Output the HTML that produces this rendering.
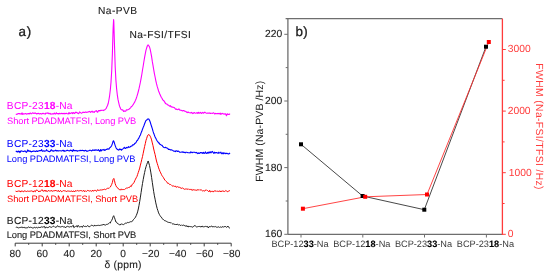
<!DOCTYPE html>
<html><head><meta charset="utf-8"><style>
html,body{margin:0;padding:0;background:#fff;}
svg{display:block;font-family:'Liberation Sans', Arial, Helvetica, sans-serif;text-rendering:geometricPrecision;}
</style></head><body>
<svg width="550" height="274" viewBox="0 0 550 274">
<rect width="550" height="274" fill="#fff"/>
<text x="18.44" y="35.80" font-size="13.4" letter-spacing="0.781" fill="#1c1c1c" stroke="#1c1c1c" stroke-width="0.3">a)</text>
<text x="98.06" y="14.10" font-size="10.2" letter-spacing="0.445" fill="#1c1c1c" stroke="#1c1c1c" stroke-width="0.12">Na-PVB</text>
<text x="129.46" y="38.10" font-size="10.2" letter-spacing="0.423" fill="#1c1c1c" stroke="#1c1c1c" stroke-width="0.12">Na-FSI/TFSI</text>
<polyline fill="none" stroke="#ff00ff" stroke-width="1.1" stroke-linejoin="round" points="15.8,113.8 16.5,114.4 17.2,114.3 17.9,113.6 18.6,113.6 19.3,113.5 20.0,114.0 20.7,113.7 21.4,114.1 22.1,112.9 22.8,114.4 23.5,113.7 24.2,114.0 24.9,113.7 25.6,113.6 26.3,113.9 27.0,114.1 27.7,113.6 28.4,113.6 29.1,114.0 29.8,113.3 30.5,113.0 31.2,113.9 31.9,113.4 32.6,112.8 33.3,113.3 34.0,113.4 34.7,113.1 35.4,113.0 36.1,113.6 36.8,114.0 37.5,113.5 38.2,113.3 38.9,113.8 39.6,113.9 40.3,113.5 41.0,113.8 41.7,114.1 42.4,113.5 43.1,113.2 43.8,113.8 44.5,113.7 45.2,114.1 45.9,113.0 46.6,113.3 47.3,113.2 48.0,112.8 48.7,113.7 49.4,113.8 50.1,113.3 50.8,114.2 51.5,114.0 52.2,113.9 52.9,113.8 53.6,114.0 54.3,113.0 55.0,113.9 55.7,113.9 56.4,112.8 57.1,113.8 57.8,113.5 58.5,114.0 59.2,113.4 59.9,113.6 60.6,113.7 61.3,113.2 62.0,113.8 62.7,113.4 63.4,113.7 64.1,113.2 64.8,113.9 65.5,113.6 66.2,113.3 66.9,113.6 67.6,113.8 68.3,114.0 69.0,112.5 69.7,113.6 70.4,113.4 71.1,113.1 71.8,112.6 72.5,113.6 73.2,112.5 73.9,113.2 74.6,113.5 75.3,112.2 76.0,112.8 76.7,112.3 77.4,112.9 78.1,113.5 78.8,113.6 79.5,111.9 80.2,112.4 80.9,112.9 81.6,113.3 82.3,112.7 83.0,112.1 83.7,112.5 84.4,112.4 85.1,112.2 85.8,111.9 86.5,112.4 87.2,112.3 87.9,112.0 88.6,111.9 89.3,111.4 90.0,111.7 90.7,112.4 91.4,111.7 92.1,111.1 92.8,112.2 93.5,111.8 94.2,112.4 94.9,111.4 95.6,111.1 96.3,110.6 97.0,111.7 97.7,112.2 98.4,110.6 99.1,110.6 99.8,111.0 100.5,110.3 101.2,110.4 101.9,110.2 102.6,110.3 103.3,110.6 104.0,110.0 104.7,110.0 105.4,109.1 106.1,108.6 106.8,106.9 107.5,105.5 108.2,103.5 108.9,100.0 109.6,95.8 110.3,90.0 111.0,82.3 111.7,71.0 112.4,53.3 113.1,28.8 113.6,19.6 113.8,21.5 114.5,45.6 115.2,67.1 115.9,80.1 116.6,88.6 117.3,94.8 118.0,99.4 118.7,102.7 119.4,105.6 120.1,107.6 120.8,109.1 121.5,109.8 122.2,109.9 122.9,110.1 123.6,111.4 124.3,110.9 125.0,111.2 125.7,111.2 126.4,109.8 127.1,110.0 127.8,109.7 128.5,109.4 129.2,109.0 129.9,108.4 130.6,107.8 131.3,106.6 132.0,106.2 132.7,105.2 133.4,104.3 134.1,103.0 134.8,101.9 135.5,100.3 136.2,98.5 136.9,96.4 137.6,94.1 138.3,91.5 139.0,88.7 139.7,85.5 140.4,82.2 141.1,78.4 141.8,74.5 142.5,70.0 143.2,66.0 143.9,61.5 144.6,57.3 145.3,53.6 146.0,50.2 146.7,47.8 147.4,45.8 148.1,44.8 148.3,45.1 148.8,45.8 149.5,46.9 150.2,49.3 150.9,52.9 151.6,56.7 152.3,61.4 153.0,65.3 153.7,69.7 154.4,73.6 155.1,77.0 155.8,80.6 156.5,83.7 157.2,86.4 157.9,88.7 158.6,91.0 159.3,92.8 160.0,94.6 160.7,96.0 161.4,97.5 162.1,98.4 162.8,99.9 163.5,100.5 164.2,101.2 164.9,102.4 165.6,103.6 166.3,104.0 167.0,104.1 167.7,105.0 168.4,105.1 169.1,105.7 169.8,106.2 170.5,105.7 171.2,106.9 171.9,106.8 172.6,107.2 173.3,107.2 174.0,107.5 174.7,108.0 175.4,108.9 176.1,109.5 176.8,109.1 177.5,109.7 178.2,109.4 178.9,108.9 179.6,110.0 180.3,110.3 181.0,110.1 181.7,110.6 182.4,110.9 183.1,110.6 183.8,110.5 184.5,111.2 185.2,111.3 185.9,111.5 186.6,112.2 187.3,112.6 188.0,111.9 188.7,112.5 189.4,112.8 190.1,112.8 190.8,113.0 191.5,112.4 192.2,113.0 192.9,113.6 193.6,113.0 194.3,112.5 195.0,113.0 195.7,113.3 196.4,113.0 197.1,112.6 197.8,113.5 198.5,112.3 199.2,113.1 199.9,112.9 200.6,112.4 201.3,113.5 202.0,113.1 202.7,112.4 203.4,113.2 204.1,112.8 204.8,112.1 205.5,112.7 206.2,113.1 206.9,113.3 207.6,113.1 208.3,113.0 209.0,113.2 209.7,112.9 210.4,113.5 211.1,113.2 211.8,113.3 212.5,113.4 213.2,112.8 213.9,113.0 214.6,114.0 215.3,113.6 216.0,113.4 216.7,113.7 217.4,113.4 218.1,113.8 218.8,113.4 219.5,113.9 220.2,113.1 220.9,114.4 221.6,113.7 222.3,113.3 223.0,113.9 223.7,113.9 224.4,114.2 225.1,113.6 225.8,114.4 226.5,115.8 227.2,113.7 227.9,114.5 228.6,114.2 229.3,114.5 230.0,113.7"/>
<polyline fill="none" stroke="#0000ff" stroke-width="1.1" stroke-linejoin="round" points="15.8,150.9 16.5,151.6 17.2,151.4 17.9,152.1 18.6,151.0 19.3,151.4 20.0,152.6 20.7,151.0 21.4,150.9 22.1,151.3 22.8,151.2 23.5,151.6 24.2,151.3 24.9,150.9 25.6,151.3 26.3,152.4 27.0,151.7 27.7,149.9 28.4,151.1 29.1,150.7 29.8,151.4 30.5,151.0 31.2,151.9 31.9,151.5 32.6,151.4 33.3,151.1 34.0,151.0 34.7,151.2 35.4,151.6 36.1,151.2 36.8,150.8 37.5,151.5 38.2,151.0 38.9,150.9 39.6,150.6 40.3,150.6 41.0,150.6 41.7,149.6 42.4,151.3 43.1,151.1 43.8,150.8 44.5,151.3 45.2,151.0 45.9,151.0 46.6,149.7 47.3,150.7 48.0,151.1 48.7,151.5 49.4,151.6 50.1,151.4 50.8,150.3 51.5,149.8 52.2,151.0 52.9,150.8 53.6,151.2 54.3,150.7 55.0,150.8 55.7,150.1 56.4,150.9 57.1,150.5 57.8,150.9 58.5,150.9 59.2,150.7 59.9,150.8 60.6,150.7 61.3,151.0 62.0,150.9 62.7,150.4 63.4,150.4 64.1,151.5 64.8,150.6 65.5,151.1 66.2,150.8 66.9,150.4 67.6,150.3 68.3,150.7 69.0,150.8 69.7,150.9 70.4,150.1 71.1,150.4 71.8,150.6 72.5,151.4 73.2,149.6 73.9,150.8 74.6,150.4 75.3,150.8 76.0,150.4 76.7,150.8 77.4,151.3 78.1,150.8 78.8,150.8 79.5,150.8 80.2,150.3 80.9,150.8 81.6,150.5 82.3,150.2 83.0,150.6 83.7,150.5 84.4,150.9 85.1,150.5 85.8,150.3 86.5,151.2 87.2,151.0 87.9,151.1 88.6,150.8 89.3,150.4 90.0,150.3 90.7,150.3 91.4,150.9 92.1,150.5 92.8,149.8 93.5,150.4 94.2,149.8 94.9,150.5 95.6,149.9 96.3,149.8 97.0,150.4 97.7,150.3 98.4,149.6 99.1,150.7 99.8,151.3 100.5,149.6 101.2,151.0 101.9,149.9 102.6,149.9 103.3,150.0 104.0,149.4 104.7,150.5 105.4,150.1 106.1,149.4 106.8,149.5 107.5,148.8 108.2,149.0 108.9,149.2 109.6,147.8 110.3,147.5 111.0,146.7 111.7,145.5 112.4,143.6 113.1,141.1 113.5,140.8 113.8,141.3 114.5,143.3 115.2,145.6 115.9,147.4 116.6,148.8 117.3,149.2 118.0,149.7 118.7,150.1 119.4,149.0 120.1,149.7 120.8,149.1 121.5,150.2 122.2,149.4 122.9,148.9 123.6,148.4 124.3,147.3 125.0,148.2 125.7,148.5 126.4,147.4 127.1,147.8 127.8,147.6 128.5,146.6 129.2,147.3 129.9,147.2 130.6,146.5 131.3,146.1 132.0,146.0 132.7,144.8 133.4,144.9 134.1,144.6 134.8,143.3 135.5,143.3 136.2,142.1 136.9,140.7 137.6,140.2 138.3,138.8 139.0,137.9 139.7,136.1 140.4,135.0 141.1,132.9 141.8,131.3 142.5,129.2 143.2,127.4 143.9,125.7 144.6,123.8 145.3,122.0 146.0,120.4 146.7,120.0 147.4,119.3 148.0,118.9 148.1,119.0 148.8,119.1 149.5,120.3 150.2,122.0 150.9,124.3 151.6,126.5 152.3,128.6 153.0,131.2 153.7,133.3 154.4,135.1 155.1,137.0 155.8,138.3 156.5,139.7 157.2,141.0 157.9,141.8 158.6,142.9 159.3,143.1 160.0,144.5 160.7,144.5 161.4,145.3 162.1,145.4 162.8,146.5 163.5,147.2 164.2,147.5 164.9,147.7 165.6,147.2 166.3,147.7 167.0,148.1 167.7,148.3 168.4,149.4 169.1,149.3 169.8,149.5 170.5,150.0 171.2,149.7 171.9,150.0 172.6,150.2 173.3,151.0 174.0,151.1 174.7,151.3 175.4,151.6 176.1,150.7 176.8,151.1 177.5,151.5 178.2,151.0 178.9,151.4 179.6,152.1 180.3,152.3 181.0,152.3 181.7,152.0 182.4,151.9 183.1,152.5 183.8,152.0 184.5,152.4 185.2,152.9 185.9,152.2 186.6,152.2 187.3,152.5 188.0,152.8 188.7,152.8 189.4,152.7 190.1,152.9 190.8,151.9 191.5,152.3 192.2,152.8 192.9,152.3 193.6,152.2 194.3,152.2 195.0,152.4 195.7,152.7 196.4,152.4 197.1,153.0 197.8,153.6 198.5,152.9 199.2,153.5 199.9,153.1 200.6,152.5 201.3,152.9 202.0,152.5 202.7,153.3 203.4,152.4 204.1,153.5 204.8,153.1 205.5,151.9 206.2,153.2 206.9,153.5 207.6,152.4 208.3,153.2 209.0,151.9 209.7,152.8 210.4,151.9 211.1,152.8 211.8,151.8 212.5,151.4 213.2,152.7 213.9,153.5 214.6,152.2 215.3,152.9 216.0,152.6 216.7,152.5 217.4,152.9 218.1,153.4 218.8,152.2 219.5,153.0 220.2,153.0 220.9,152.2 221.6,153.6 222.3,153.8 223.0,152.6 223.7,153.8 224.4,153.1 225.1,153.0 225.8,153.8 226.5,153.3 227.2,153.4 227.9,153.9 228.6,153.9 229.3,153.7 230.0,152.8"/>
<polyline fill="none" stroke="#ff0000" stroke-width="1.0" stroke-linejoin="round" points="15.8,190.8 16.5,192.0 17.2,191.1 17.9,191.5 18.6,191.0 19.3,191.3 20.0,190.8 20.7,192.1 21.4,190.9 22.1,191.3 22.8,191.2 23.5,191.8 24.2,190.7 24.9,191.3 25.6,191.2 26.3,191.5 27.0,191.4 27.7,191.0 28.4,191.3 29.1,191.0 29.8,191.4 30.5,191.1 31.2,190.8 31.9,191.1 32.6,191.2 33.3,192.1 34.0,190.8 34.7,191.2 35.4,191.7 36.1,190.1 36.8,190.2 37.5,190.4 38.2,190.9 38.9,192.0 39.6,191.1 40.3,191.4 41.0,190.8 41.7,189.8 42.4,189.9 43.1,191.4 43.8,191.0 44.5,190.3 45.2,191.4 45.9,190.2 46.6,191.4 47.3,191.6 48.0,190.6 48.7,190.5 49.4,191.3 50.1,190.5 50.8,191.3 51.5,190.4 52.2,191.3 52.9,191.0 53.6,190.8 54.3,190.6 55.0,191.1 55.7,190.1 56.4,190.9 57.1,190.8 57.8,191.3 58.5,190.4 59.2,191.8 59.9,190.9 60.6,190.5 61.3,191.6 62.0,191.7 62.7,190.9 63.4,190.6 64.1,191.0 64.8,190.7 65.5,190.8 66.2,191.7 66.9,191.2 67.6,191.0 68.3,191.1 69.0,190.9 69.7,191.3 70.4,191.4 71.1,190.8 71.8,191.0 72.5,192.0 73.2,191.1 73.9,190.9 74.6,191.9 75.3,190.9 76.0,190.4 76.7,191.2 77.4,190.5 78.1,190.7 78.8,191.1 79.5,190.8 80.2,190.6 80.9,190.6 81.6,190.6 82.3,191.4 83.0,190.5 83.7,190.6 84.4,191.7 85.1,190.6 85.8,191.4 86.5,191.4 87.2,190.7 87.9,190.1 88.6,190.9 89.3,191.0 90.0,191.1 90.7,190.7 91.4,191.2 92.1,191.2 92.8,190.1 93.5,191.2 94.2,190.6 94.9,190.3 95.6,190.4 96.3,191.3 97.0,190.9 97.7,189.6 98.4,190.4 99.1,190.3 99.8,190.2 100.5,190.0 101.2,189.5 101.9,190.4 102.6,189.5 103.3,189.6 104.0,189.4 104.7,189.2 105.4,189.6 106.1,189.3 106.8,188.7 107.5,188.3 108.2,188.2 108.9,188.4 109.6,187.7 110.3,187.0 111.0,185.8 111.7,184.4 112.4,182.4 113.1,179.4 113.7,178.6 113.8,178.4 114.5,180.7 115.2,183.8 115.9,185.6 116.6,186.9 117.3,187.7 118.0,188.1 118.7,189.1 119.4,189.8 120.1,189.2 120.8,190.2 121.5,189.1 122.2,189.3 122.9,189.8 123.6,189.5 124.3,189.6 125.0,188.9 125.7,188.6 126.4,188.1 127.1,188.1 127.8,187.9 128.5,187.5 129.2,187.7 129.9,187.0 130.6,185.9 131.3,186.5 132.0,184.8 132.7,183.8 133.4,183.5 134.1,182.3 134.8,180.6 135.5,179.2 136.2,177.8 136.9,176.6 137.6,174.5 138.3,172.4 139.0,170.3 139.7,168.1 140.4,165.1 141.1,162.4 141.8,159.3 142.5,156.6 143.2,153.3 143.9,149.9 144.6,146.5 145.3,143.6 146.0,140.3 146.7,138.3 147.4,136.1 148.1,134.9 148.8,134.4 148.9,134.7 149.5,135.1 150.2,136.2 150.9,137.8 151.6,139.9 152.3,142.9 153.0,145.7 153.7,149.0 154.4,151.9 155.1,154.6 155.8,157.9 156.5,161.0 157.2,163.3 157.9,165.5 158.6,167.9 159.3,169.7 160.0,171.5 160.7,172.9 161.4,174.4 162.1,175.8 162.8,176.7 163.5,177.7 164.2,179.0 164.9,180.1 165.6,180.8 166.3,181.5 167.0,182.1 167.7,183.4 168.4,183.2 169.1,184.0 169.8,184.7 170.5,184.5 171.2,184.9 171.9,185.6 172.6,186.1 173.3,185.9 174.0,186.2 174.7,186.4 175.4,186.1 176.1,187.3 176.8,186.9 177.5,186.6 178.2,187.4 178.9,186.9 179.6,187.4 180.3,187.9 181.0,187.7 181.7,188.6 182.4,187.7 183.1,188.5 183.8,188.8 184.5,189.3 185.2,189.1 185.9,188.9 186.6,189.0 187.3,189.0 188.0,189.6 188.7,188.9 189.4,189.5 190.1,189.3 190.8,189.5 191.5,189.4 192.2,190.5 192.9,189.4 193.6,189.8 194.3,189.9 195.0,190.1 195.7,190.1 196.4,190.2 197.1,190.5 197.8,189.4 198.5,190.1 199.2,189.6 199.9,190.3 200.6,189.8 201.3,189.9 202.0,190.4 202.7,191.0 203.4,190.7 204.1,190.7 204.8,191.2 205.5,190.2 206.2,189.7 206.9,190.5 207.6,190.6 208.3,191.3 209.0,191.8 209.7,190.3 210.4,192.0 211.1,191.6 211.8,191.3 212.5,191.2 213.2,192.1 213.9,191.1 214.6,190.9 215.3,191.2 216.0,190.6 216.7,191.4 217.4,191.2 218.1,191.4 218.8,191.4 219.5,190.8 220.2,191.9 220.9,190.9 221.6,191.7 222.3,190.7 223.0,191.6 223.7,191.1 224.4,191.5 225.1,191.2 225.8,190.5 226.5,191.0 227.2,191.5 227.9,191.8 228.6,190.9 229.3,190.6 230.0,191.2"/>
<polyline fill="none" stroke="#1e1e1e" stroke-width="1.0" stroke-linejoin="round" points="15.8,227.4 16.5,227.2 17.2,227.1 17.9,227.9 18.6,227.9 19.3,227.8 20.0,227.1 20.7,227.5 21.4,227.4 22.1,226.8 22.8,227.8 23.5,227.5 24.2,227.2 24.9,228.1 25.6,227.8 26.3,227.8 27.0,228.0 27.7,227.7 28.4,226.8 29.1,227.2 29.8,227.8 30.5,227.0 31.2,227.4 31.9,227.6 32.6,228.0 33.3,227.9 34.0,227.8 34.7,227.3 35.4,227.8 36.1,227.6 36.8,227.3 37.5,227.9 38.2,227.5 38.9,227.0 39.6,227.9 40.3,227.2 41.0,227.6 41.7,226.6 42.4,227.2 43.1,226.8 43.8,226.8 44.5,226.4 45.2,228.2 45.9,227.1 46.6,227.3 47.3,227.7 48.0,227.1 48.7,227.4 49.4,226.5 50.1,227.2 50.8,226.9 51.5,227.3 52.2,227.1 52.9,226.4 53.6,226.2 54.3,226.6 55.0,227.3 55.7,227.2 56.4,227.2 57.1,226.1 57.8,225.7 58.5,226.7 59.2,226.8 59.9,226.6 60.6,227.0 61.3,226.8 62.0,226.3 62.7,226.5 63.4,226.9 64.1,226.9 64.8,226.8 65.5,227.8 66.2,226.7 66.9,226.8 67.6,226.3 68.3,226.6 69.0,227.0 69.7,227.0 70.4,226.6 71.1,226.9 71.8,226.7 72.5,225.8 73.2,225.2 73.9,227.7 74.6,227.0 75.3,226.6 76.0,225.8 76.7,226.0 77.4,227.2 78.1,225.3 78.8,226.4 79.5,226.9 80.2,226.6 80.9,226.8 81.6,226.4 82.3,227.4 83.0,225.9 83.7,225.7 84.4,226.4 85.1,226.8 85.8,226.2 86.5,226.6 87.2,225.9 87.9,225.5 88.6,226.6 89.3,226.7 90.0,226.6 90.7,225.7 91.4,225.3 92.1,225.3 92.8,225.7 93.5,226.0 94.2,225.9 94.9,225.0 95.6,225.7 96.3,225.6 97.0,225.5 97.7,225.4 98.4,225.3 99.1,225.6 99.8,225.4 100.5,225.3 101.2,224.9 101.9,225.3 102.6,225.0 103.3,224.1 104.0,225.1 104.7,224.7 105.4,225.1 106.1,224.5 106.8,224.4 107.5,224.3 108.2,223.9 108.9,223.5 109.6,222.6 110.3,223.1 111.0,221.3 111.7,220.4 112.4,218.8 113.1,216.7 113.7,215.7 113.8,216.0 114.5,217.7 115.2,219.7 115.9,222.0 116.6,222.2 117.3,223.4 118.0,223.8 118.7,224.2 119.4,224.6 120.1,225.1 120.8,224.1 121.5,224.0 122.2,224.4 122.9,224.2 123.6,224.6 124.3,224.0 125.0,223.5 125.7,223.1 126.4,223.2 127.1,222.9 127.8,222.3 128.5,222.6 129.2,222.3 129.9,222.1 130.6,221.7 131.3,222.0 132.0,221.2 132.7,220.8 133.4,219.7 134.1,218.8 134.8,218.2 135.5,217.2 136.2,215.7 136.9,214.0 137.6,211.9 138.3,209.0 139.0,205.4 139.7,201.5 140.4,197.1 141.1,192.5 141.8,187.8 142.5,183.5 143.2,179.6 143.9,175.9 144.6,172.5 145.3,169.4 146.0,166.8 146.7,164.6 147.4,162.8 148.1,161.0 148.2,161.0 148.8,163.0 149.5,165.5 150.2,168.8 150.9,172.9 151.6,177.4 152.3,182.3 153.0,187.1 153.7,191.7 154.4,195.8 155.1,199.2 155.8,202.9 156.5,205.9 157.2,208.6 157.9,210.7 158.6,212.9 159.3,214.3 160.0,215.6 160.7,216.7 161.4,217.1 162.1,218.6 162.8,219.2 163.5,219.5 164.2,220.4 164.9,220.8 165.6,220.9 166.3,221.3 167.0,221.6 167.7,222.1 168.4,222.2 169.1,222.9 169.8,222.2 170.5,223.0 171.2,222.7 171.9,223.4 172.6,224.0 173.3,223.9 174.0,224.0 174.7,224.3 175.4,225.0 176.1,224.1 176.8,225.0 177.5,224.1 178.2,224.7 178.9,225.1 179.6,224.7 180.3,225.3 181.0,225.6 181.7,224.9 182.4,225.5 183.1,225.4 183.8,224.9 184.5,225.7 185.2,225.5 185.9,226.5 186.6,225.6 187.3,226.8 188.0,225.9 188.7,227.0 189.4,226.5 190.1,226.5 190.8,226.7 191.5,226.7 192.2,227.0 192.9,227.2 193.6,226.3 194.3,225.9 195.0,225.3 195.7,226.4 196.4,226.9 197.1,226.8 197.8,226.7 198.5,226.5 199.2,226.4 199.9,226.6 200.6,227.0 201.3,226.0 202.0,227.1 202.7,226.2 203.4,226.8 204.1,226.6 204.8,226.7 205.5,226.4 206.2,226.4 206.9,226.8 207.6,226.4 208.3,228.0 209.0,226.7 209.7,226.6 210.4,226.7 211.1,226.5 211.8,225.9 212.5,226.9 213.2,227.1 213.9,226.3 214.6,227.0 215.3,226.5 216.0,227.0 216.7,227.2 217.4,227.2 218.1,227.2 218.8,226.7 219.5,227.4 220.2,226.8 220.9,227.2 221.6,227.3 222.3,226.9 223.0,226.4 223.7,227.3 224.4,226.5 225.1,226.6 225.8,226.5 226.5,227.4 227.2,226.9 227.9,226.0 228.6,227.3 229.3,227.9 230.0,227.8"/>
<text x="6.86" y="108.60" font-size="10.2" letter-spacing="0.223" fill="#ff00ff">BCP-23<tspan font-weight="bold" fill="#ff00ff" stroke="#ff00ff" stroke-width="0.1">18</tspan>-Na</text>
<text x="7.08" y="123.80" font-size="9.3" letter-spacing="-0.076" fill="#ff00ff">Short PDADMATFSI, Long PVB</text>
<text x="6.86" y="146.60" font-size="10.2" letter-spacing="0.223" fill="#0000ff">BCP-23<tspan font-weight="bold" fill="#0000ff" stroke="#0000ff" stroke-width="0.1">33</tspan>-Na</text>
<text x="6.74" y="161.50" font-size="9.3" letter-spacing="-0.038" fill="#0000ff">Long PDADMATFSI, Long PVB</text>
<text x="6.86" y="186.50" font-size="10.2" letter-spacing="0.223" fill="#ff0000">BCP-12<tspan font-weight="bold" fill="#ff0000" stroke="#ff0000" stroke-width="0.1">18</tspan>-Na</text>
<text x="7.08" y="201.70" font-size="9.3" letter-spacing="-0.059" fill="#ff0000">Short PDADMATFSI, Short PVB</text>
<text x="6.86" y="224.10" font-size="10.2" letter-spacing="0.223" fill="#1c1c1c" stroke="#1c1c1c" stroke-width="0.12">BCP-12<tspan font-weight="bold" fill="#000000" stroke="#000000" stroke-width="0.1">33</tspan>-Na</text>
<text x="6.74" y="238.20" font-size="9.3" letter-spacing="-0.063" fill="#1c1c1c" stroke="#1c1c1c" stroke-width="0.12">Long PDADMATFSI, Short PVB</text>
<line x1="15.2" y1="243.2" x2="231.2" y2="243.2" stroke="#3a3a3a" stroke-width="1"/>
<line x1="15.2" y1="243.2" x2="15.2" y2="246.39999999999998" stroke="#3a3a3a" stroke-width="1"/>
<text x="9.50" y="257.20" font-size="10.2" letter-spacing="0.000" fill="#1c1c1c" stroke="#1c1c1c" stroke-width="0.12">80</text>
<line x1="28.7" y1="243.2" x2="28.7" y2="244.79999999999998" stroke="#3a3a3a" stroke-width="1"/>
<line x1="42.2" y1="243.2" x2="42.2" y2="246.39999999999998" stroke="#3a3a3a" stroke-width="1"/>
<text x="36.47" y="257.20" font-size="10.2" letter-spacing="0.000" fill="#1c1c1c" stroke="#1c1c1c" stroke-width="0.12">60</text>
<line x1="55.7" y1="243.2" x2="55.7" y2="244.79999999999998" stroke="#3a3a3a" stroke-width="1"/>
<line x1="69.2" y1="243.2" x2="69.2" y2="246.39999999999998" stroke="#3a3a3a" stroke-width="1"/>
<text x="63.61" y="257.20" font-size="10.2" letter-spacing="0.000" fill="#1c1c1c" stroke="#1c1c1c" stroke-width="0.12">40</text>
<line x1="82.7" y1="243.2" x2="82.7" y2="244.79999999999998" stroke="#3a3a3a" stroke-width="1"/>
<line x1="96.2" y1="243.2" x2="96.2" y2="246.39999999999998" stroke="#3a3a3a" stroke-width="1"/>
<text x="90.47" y="257.20" font-size="10.2" letter-spacing="-0.000" fill="#1c1c1c" stroke="#1c1c1c" stroke-width="0.12">20</text>
<line x1="109.7" y1="243.2" x2="109.7" y2="244.79999999999998" stroke="#3a3a3a" stroke-width="1"/>
<line x1="123.2" y1="243.2" x2="123.2" y2="246.39999999999998" stroke="#3a3a3a" stroke-width="1"/>
<text x="120.36" y="257.20" font-size="10.2" letter-spacing="0.000" fill="#1c1c1c" stroke="#1c1c1c" stroke-width="0.12">0</text>
<line x1="136.7" y1="243.2" x2="136.7" y2="244.79999999999998" stroke="#3a3a3a" stroke-width="1"/>
<line x1="150.2" y1="243.2" x2="150.2" y2="246.39999999999998" stroke="#3a3a3a" stroke-width="1"/>
<text x="142.09" y="257.20" font-size="10.2" letter-spacing="0.000" fill="#1c1c1c" stroke="#1c1c1c" stroke-width="0.12">−20</text>
<line x1="163.7" y1="243.2" x2="163.7" y2="244.79999999999998" stroke="#3a3a3a" stroke-width="1"/>
<line x1="177.2" y1="243.2" x2="177.2" y2="246.39999999999998" stroke="#3a3a3a" stroke-width="1"/>
<text x="169.09" y="257.20" font-size="10.2" letter-spacing="0.000" fill="#1c1c1c" stroke="#1c1c1c" stroke-width="0.12">−40</text>
<line x1="190.7" y1="243.2" x2="190.7" y2="244.79999999999998" stroke="#3a3a3a" stroke-width="1"/>
<line x1="204.2" y1="243.2" x2="204.2" y2="246.39999999999998" stroke="#3a3a3a" stroke-width="1"/>
<text x="196.09" y="257.20" font-size="10.2" letter-spacing="0.000" fill="#1c1c1c" stroke="#1c1c1c" stroke-width="0.12">−60</text>
<line x1="217.7" y1="243.2" x2="217.7" y2="244.79999999999998" stroke="#3a3a3a" stroke-width="1"/>
<line x1="231.2" y1="243.2" x2="231.2" y2="246.39999999999998" stroke="#3a3a3a" stroke-width="1"/>
<text x="223.09" y="257.20" font-size="10.2" letter-spacing="0.000" fill="#1c1c1c" stroke="#1c1c1c" stroke-width="0.12">−80</text>
<text x="104.47" y="268.30" font-size="10.3" letter-spacing="0.263" fill="#1c1c1c" stroke="#1c1c1c" stroke-width="0.12">δ (ppm)</text>
<line x1="285.6" y1="18.65" x2="502.4" y2="18.65" stroke="#6e6e6e" stroke-width="1.4"/>
<line x1="287.9" y1="18.0" x2="287.9" y2="234.3" stroke="#6e6e6e" stroke-width="1.3"/>
<line x1="287.9" y1="234.3" x2="502.4" y2="234.3" stroke="#6e6e6e" stroke-width="1.3"/>
<line x1="502.4" y1="18.65" x2="502.4" y2="234.95000000000002" stroke="#ff3b3b" stroke-width="1.3"/>
<text x="295.54" y="35.70" font-size="13.4" letter-spacing="0.376" fill="#1c1c1c" stroke="#1c1c1c" stroke-width="0.3">b)</text>
<line x1="284.29999999999995" y1="234.3" x2="287.9" y2="234.3" stroke="#6e6e6e" stroke-width="1"/>
<text x="265.11" y="237.20" font-size="10.3" letter-spacing="-0.000" fill="#1c1c1c" stroke="#1c1c1c" stroke-width="0.12">160</text>
<line x1="285.7" y1="201.0" x2="287.9" y2="201.0" stroke="#6e6e6e" stroke-width="1"/>
<line x1="284.29999999999995" y1="167.6" x2="287.9" y2="167.6" stroke="#6e6e6e" stroke-width="1"/>
<text x="265.11" y="170.53" font-size="10.3" letter-spacing="-0.000" fill="#1c1c1c" stroke="#1c1c1c" stroke-width="0.12">180</text>
<line x1="285.7" y1="134.3" x2="287.9" y2="134.3" stroke="#6e6e6e" stroke-width="1"/>
<line x1="284.29999999999995" y1="101.0" x2="287.9" y2="101.0" stroke="#6e6e6e" stroke-width="1"/>
<text x="265.11" y="103.87" font-size="10.3" letter-spacing="0.000" fill="#1c1c1c" stroke="#1c1c1c" stroke-width="0.12">200</text>
<line x1="285.7" y1="67.6" x2="287.9" y2="67.6" stroke="#6e6e6e" stroke-width="1"/>
<line x1="284.29999999999995" y1="34.3" x2="287.9" y2="34.3" stroke="#6e6e6e" stroke-width="1"/>
<text x="265.11" y="37.20" font-size="10.3" letter-spacing="0.000" fill="#1c1c1c" stroke="#1c1c1c" stroke-width="0.12">220</text>
<line x1="502.4" y1="234.3" x2="505.79999999999995" y2="234.3" stroke="#ff3b3b" stroke-width="1"/>
<text x="507.80" y="237.20" font-size="10.3" letter-spacing="0.000" fill="#ff3b3b">0</text>
<line x1="502.4" y1="203.5" x2="504.59999999999997" y2="203.5" stroke="#ff3b3b" stroke-width="1"/>
<line x1="502.4" y1="172.7" x2="505.79999999999995" y2="172.7" stroke="#ff3b3b" stroke-width="1"/>
<text x="508.82" y="175.60" font-size="10.3" letter-spacing="-0.000" fill="#ff3b3b">1000</text>
<line x1="502.4" y1="141.9" x2="504.59999999999997" y2="141.9" stroke="#ff3b3b" stroke-width="1"/>
<line x1="502.4" y1="111.1" x2="505.79999999999995" y2="111.1" stroke="#ff3b3b" stroke-width="1"/>
<text x="507.69" y="114.00" font-size="10.3" letter-spacing="-0.000" fill="#ff3b3b">2000</text>
<line x1="502.4" y1="80.3" x2="504.59999999999997" y2="80.3" stroke="#ff3b3b" stroke-width="1"/>
<line x1="502.4" y1="49.5" x2="505.79999999999995" y2="49.5" stroke="#ff3b3b" stroke-width="1"/>
<text x="507.81" y="52.40" font-size="10.3" letter-spacing="-0.000" fill="#ff3b3b">3000</text>
<line x1="301.0" y1="234.3" x2="301.0" y2="237.5" stroke="#6e6e6e" stroke-width="1"/>
<text x="271.40" y="246.80" font-size="9.2" letter-spacing="-0.002" fill="#3a3a3a">BCP-12<tspan font-weight="bold" fill="#000000" stroke="#000000" stroke-width="0.1">33</tspan>-Na</text>
<line x1="362.8" y1="234.3" x2="362.8" y2="237.5" stroke="#6e6e6e" stroke-width="1"/>
<text x="333.20" y="246.80" font-size="9.2" letter-spacing="-0.002" fill="#3a3a3a">BCP-12<tspan font-weight="bold" fill="#000000" stroke="#000000" stroke-width="0.1">18</tspan>-Na</text>
<line x1="424.5" y1="234.3" x2="424.5" y2="237.5" stroke="#6e6e6e" stroke-width="1"/>
<text x="394.90" y="246.80" font-size="9.2" letter-spacing="-0.002" fill="#3a3a3a">BCP-23<tspan font-weight="bold" fill="#000000" stroke="#000000" stroke-width="0.1">33</tspan>-Na</text>
<line x1="486.4" y1="234.3" x2="486.4" y2="237.5" stroke="#6e6e6e" stroke-width="1"/>
<text x="456.80" y="246.80" font-size="9.2" letter-spacing="-0.002" fill="#3a3a3a">BCP-23<tspan font-weight="bold" fill="#000000" stroke="#000000" stroke-width="0.1">18</tspan>-Na</text>
<polyline fill="none" stroke="#333" stroke-width="0.9" points="301.0,144.3 362.6,196.0 424.3,209.7 486.0,46.7"/>
<polyline fill="none" stroke="#ff3030" stroke-width="0.9" points="302.9,208.7 365.2,196.8 427.0,194.5 488.8,42.0"/>
<rect x="299.0" y="142.3" width="4" height="4" fill="#000"/>
<rect x="360.6" y="194.0" width="4" height="4" fill="#000"/>
<rect x="422.3" y="207.7" width="4" height="4" fill="#000"/>
<rect x="484.0" y="44.7" width="4" height="4" fill="#000"/>
<rect x="300.9" y="206.7" width="4" height="4" fill="#ff0000"/>
<rect x="363.2" y="194.8" width="4" height="4" fill="#ff0000"/>
<rect x="425.0" y="192.5" width="4" height="4" fill="#ff0000"/>
<rect x="486.8" y="40.0" width="4" height="4" fill="#ff0000"/>
<text transform="translate(262.80,181.86) rotate(-90)" x="0" y="0" font-size="10.5" letter-spacing="0.116" fill="#1c1c1c">FWHM (Na-PVB /Hz)</text>
<text transform="translate(536.00,63.36) rotate(90)" x="0" y="0" font-size="10.3" letter-spacing="0.396" fill="#ff3b3b">FWHM (Na-FSI/TFSI /Hz)</text>
</svg>
</body></html>
